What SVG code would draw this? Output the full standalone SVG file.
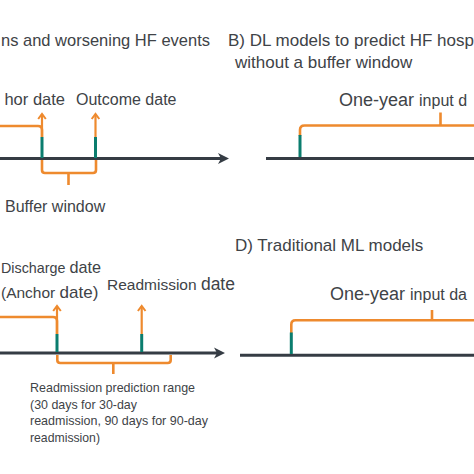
<svg xmlns="http://www.w3.org/2000/svg" width="474" height="474" viewBox="0 0 474 474">
<style>
text{font-family:"Liberation Sans",Arial,sans-serif;fill:#404347}
.t{font-size:17px}
.l{font-size:16px}
.s{font-size:13px}
.ax{stroke:#353c44;stroke-width:3;fill:none}
.or{stroke:#ee8a2e;stroke-width:2.6;fill:none}
.tl{stroke:#0b7d6e;stroke-width:3;fill:none}
.oa{stroke:#ee8a2e;stroke-width:2.2;fill:none;marker-end:url(#chev)}
.axa{stroke:#353c44;stroke-width:3;fill:none;marker-end:url(#tri)}
</style>
<defs>
<marker id="chev" markerUnits="userSpaceOnUse" markerWidth="12" markerHeight="12" refX="0" refY="0" viewBox="-7 -6 9 12" orient="auto" overflow="visible">
<path d="M-5,-3.8 L0,0 L-5,3.8" fill="none" stroke="#ee8a2e" stroke-width="2"/>
</marker>
<marker id="tri" markerUnits="userSpaceOnUse" markerWidth="14" markerHeight="14" refX="0" refY="0" viewBox="-4 -7 14 14" orient="auto" overflow="visible">
<path d="M-3,-5.5 L8,0 L-3,5.5 L0,0 Z" fill="#353c44"/>
</marker>
</defs>

<g id="panelA">
<text class="t" x="1" y="46" textLength="209" lengthAdjust="spacingAndGlyphs">ns and worsening HF events</text>
<text x="65" y="105" text-anchor="end"><tspan font-size="16.5">hor </tspan><tspan font-size="16.5">date</tspan></text>
<text class="l" x="76" y="105">Outcome date</text>
<text class="l" x="5" y="212">Buffer window</text>
</g>

<g id="panelB">
<text class="t" x="228" y="46">B) DL models to predict HF hosp</text>
<text class="t" x="235" y="68">without a buffer window</text>
<text x="339" y="106"><tspan font-size="18">One-year </tspan><tspan font-size="16">input d</tspan></text>
</g>

<g id="panelC">
<text x="1" y="273" textLength="100" lengthAdjust="spacingAndGlyphs"><tspan font-size="15">Discharge </tspan><tspan font-size="17">date</tspan></text>
<text x="1" y="298"><tspan font-size="15.5">(Anchor </tspan><tspan font-size="17">date)</tspan></text>
<text x="107" y="290"><tspan font-size="15.5">Readmission </tspan><tspan font-size="17.5">date</tspan></text>
<text class="s" x="30" y="392" textLength="165" lengthAdjust="spacingAndGlyphs">Readmission prediction range</text>
<text class="s" x="30" y="409" textLength="107" lengthAdjust="spacingAndGlyphs">(30 days for 30-day</text>
<text class="s" x="30" y="425" textLength="178" lengthAdjust="spacingAndGlyphs">readmission, 90 days for 90-day</text>
<text class="s" x="30" y="442" textLength="70" lengthAdjust="spacingAndGlyphs">readmission)</text>
</g>

<g id="panelD">
<text class="t" x="235" y="251">D) Traditional ML models</text>
<text x="330" y="300"><tspan font-size="18">One-year </tspan><tspan font-size="16">input da</tspan></text>
</g>

<g id="connectors">
<!-- A -->
<path class="axa" d="M-2,158.5 H221"/>
<path class="or" d="M-2,126 H38 Q42,126 42,130 V137"/>
<path class="oa" d="M42,137 V114"/>
<path class="tl" d="M42,137 V158"/>
<path class="oa" d="M95.5,137 V114"/>
<path class="tl" d="M95.5,137 V158"/>
<path class="or" d="M42,160 V170 Q42,173 45,173 H93 Q96,173 96,170 V160 M68.5,173 V185"/>
<!-- B -->
<path class="ax" d="M266,158.5 H476"/>
<path class="or" d="M300,136 V130 Q300,125.5 304.5,125.5 H476 M440.5,125.5 V112.5"/>
<path class="tl" d="M300,135 V157"/>
<!-- C -->
<path class="axa" d="M-2,353 H217"/>
<path class="or" d="M-2,317 H53 Q57,317 57,321 V334"/>
<path class="oa" d="M57,334 V306"/>
<path class="tl" d="M57,334 V352"/>
<path class="oa" d="M141.7,334 V306"/>
<path class="tl" d="M141.7,334 V352"/>
<path class="or" d="M57.3,355 V360 Q57.3,363 60.3,363 H167.7 Q170.7,363 170.7,360 V355 M113.3,363 V374"/>
<!-- D -->
<path class="ax" d="M240,355.3 H476"/>
<path class="or" d="M291.3,333 V324.5 Q291.3,320.3 295.5,320.3 H476 M432,320.3 V310"/>
<path class="tl" d="M291.3,332.5 V354"/>
</g>
</svg>
